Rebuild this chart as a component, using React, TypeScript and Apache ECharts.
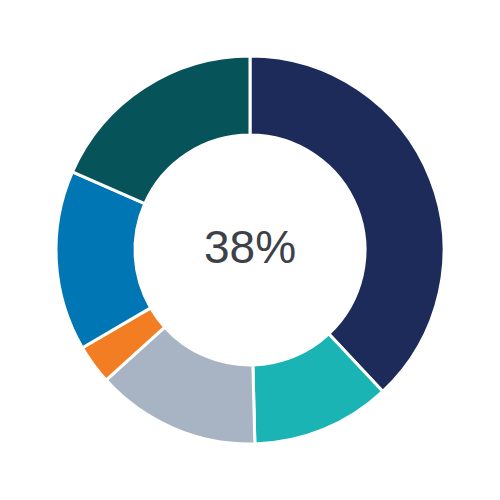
import { useEffect, useRef } from 'react';
import * as echarts from 'echarts';

const segmentNames = ['Navy', 'Teal', 'Gray', 'Orange', 'Blue', 'Green'];
const segmentValues = [38, 11.6, 13.7, 3.3, 15, 18.4];
const segmentColors = ['#1c2b5a', '#1bb4b5', '#a8b4c3', '#f27d22', '#0076b4', '#065459'];
const centerLabel = '38%';

function App() {
  const chartRef = useRef<HTMLDivElement>(null);

  useEffect(() => {
    document.body.style.margin = '0';
    const myChart = echarts.init(chartRef.current, undefined, { renderer: 'svg' });

    const option = {
      animation: false,
      graphic: [
        {
          type: 'text',
          x: 250,
          y: 247,
          style: {
            text: centerLabel,
            fill: '#3c4048',
            fontSize: 46,
            fontFamily: 'Liberation Sans, Arial, sans-serif',
            textAlign: 'center',
            textVerticalAlign: 'middle',
          },
        },
      ],
      series: [
        {
          type: 'pie',
          center: [250, 250],
          radius: [115, 194],
          startAngle: 90,
          clockwise: true,
          label: { show: false },
          labelLine: { show: false },
          emphasis: { disabled: true },
          itemStyle: {
            borderColor: '#ffffff',
            borderWidth: 3,
          },
          data: segmentNames.map((name, i) => ({
            name,
            value: segmentValues[i],
            itemStyle: { color: segmentColors[i] },
          })),
        },
      ],
    };

    myChart.setOption(option);

    return () => {
      myChart.dispose();
    };
  }, []);

  return <div ref={chartRef} style={{ width: '500px', height: '500px' }}></div>;
}

export default App;
